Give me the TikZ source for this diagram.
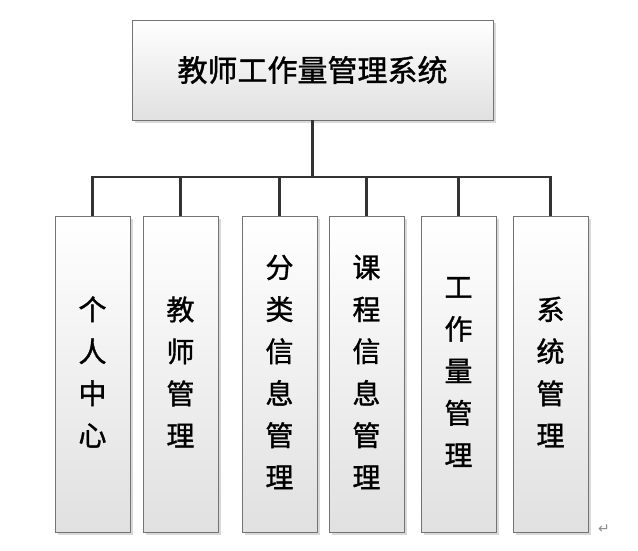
\documentclass[tikz,border=0pt]{standalone}
\usepackage{fontspec}
\newfontfamily\cjk[FakeBold=1.2]{Noto Sans CJK SC}
\newfontfamily\djvfont{DejaVu Sans}
\usetikzlibrary{shadows}
\begin{document}
\begin{tikzpicture}[x=1pt,y=-1pt,
  box/.style={draw=black!55,line width=0.8pt,top color=white,bottom color=black!12,
    drop shadow={shadow xshift=3pt,shadow yshift=-3pt,fill=black!15,opacity=1}},
  col/.style={font=\cjk\fontsize{28}{42}\selectfont,align=center,text width=40pt},
  link/.style={draw=black!80,line width=2.2pt}]
\useasboundingbox (0,0) rectangle (638,551);
\node[box,minimum width=361pt,minimum height=100pt,font=\cjk\fontsize{30}{36}\selectfont] (root) at (312.5,70) {教师工作量管理系统};
\foreach \n/\x/\t in {a/92.5/{个\\人\\中\\心},b/180.5/{教\\师\\管\\理},c/279.5/{分\\类\\信\\息\\管\\理},d/366.5/{课\\程\\信\\息\\管\\理},e/458.5/{工\\作\\量\\管\\理},f/550.5/{系\\统\\管\\理}}{
  \node[box,minimum width=75pt,minimum height=316pt] (\n) at (\x,374) {};
  \node[col] (t\n) at (\x,372) {\t};
}
\coordinate (bus) at (312.5,177);
\draw[link] (root.south) -- (bus);
\draw[link] (a.north) |- (bus) -| (f.north);
\foreach \n in {b,c,d,e} \draw[link] (\n.north) -- (\n.north |- bus);
\node[text=black!45,font=\djvfont\fontsize{14}{14}\selectfont] (ret) at (604,529) {↵};
\end{tikzpicture}
\end{document}
